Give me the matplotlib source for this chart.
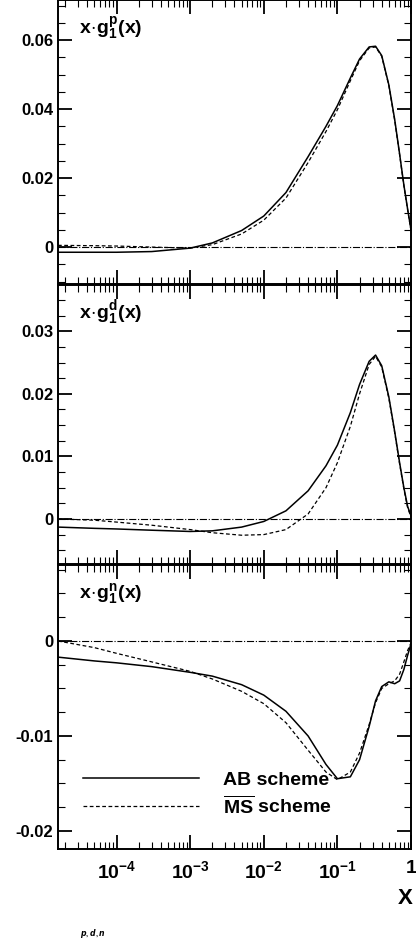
import numpy as np
import matplotlib
matplotlib.use("Agg")
import matplotlib.pyplot as plt
from matplotlib.ticker import LogLocator, NullFormatter, FixedLocator

plt.rcParams["font.family"] = ["Liberation Sans", "DejaVu Sans"]
plt.rcParams["font.weight"] = "bold"
plt.rcParams["mathtext.fontset"] = "custom"
plt.rcParams["mathtext.bf"] = "Liberation Sans:bold"
plt.rcParams["mathtext.rm"] = "Liberation Sans:bold"

x = [1.6e-5, 5e-5, 1e-4, 3e-4, 1e-3, 2e-3, 5e-3, 1e-2, 2e-2, 4e-2, 7e-2, 0.1,
     0.15, 0.2, 0.27, 0.33, 0.4, 0.5, 0.6, 0.7, 0.8, 0.9, 1.0]

p_ab = [-0.0015, -0.0015, -0.0015, -0.0013, -0.0003, 0.0012, 0.0048, 0.0090, 0.0158, 0.0262,
        0.0350, 0.0410, 0.0490, 0.0545, 0.0580, 0.0582, 0.0555, 0.0470, 0.0370, 0.0270, 0.0180, 0.0110, 0.0050]
p_ms = [0.0005, 0.0004, 0.0003, 0.0000, -0.0003, 0.0007, 0.0038, 0.0078, 0.0142, 0.0245,
        0.0335, 0.0398, 0.0482, 0.0540, 0.0577, 0.0580, 0.0553, 0.0468, 0.0368, 0.0268, 0.0178, 0.0108, 0.0048]

d_ab = [-0.0013, -0.0015, -0.0016, -0.0018, -0.0020, -0.0019, -0.0013, -0.0004, 0.0013, 0.0045,
        0.0085, 0.0118, 0.0170, 0.0215, 0.0252, 0.0262, 0.0245, 0.0195, 0.0140, 0.0090, 0.0050, 0.0020, 0.0005]
d_ms = [0.0000, -0.0002, -0.0005, -0.0010, -0.0017, -0.0022, -0.0026, -0.0025, -0.0017, 0.0008,
        0.0050, 0.0090, 0.0148, 0.0200, 0.0247, 0.0260, 0.0243, 0.0193, 0.0138, 0.0088, 0.0048, 0.0018, 0.0003]

n_ab = [-0.0017, -0.0021, -0.0023, -0.0027, -0.0033, -0.0037, -0.0046, -0.0057, -0.0074, -0.0100,
        -0.0130, -0.0145, -0.0143, -0.0125, -0.0090, -0.0063, -0.0048, -0.0043, -0.0045, -0.0042, -0.0030, -0.0015, -0.0003]
n_ms = [0.0000, -0.0007, -0.0013, -0.0022, -0.0032, -0.0040, -0.0053, -0.0066, -0.0086, -0.0115,
        -0.0138, -0.0146, -0.0138, -0.0118, -0.0088, -0.0065, -0.0050, -0.0045, -0.0042, -0.0035, -0.0022, -0.0010, -0.0002]

panels = [
    (p_ab, p_ms, "p", (-0.0107, 0.0716), [0, 0.02, 0.04, 0.06], ["0", "0.02", "0.04", "0.06"]),
    (d_ab, d_ms, "d", (-0.0072, 0.0374), [0, 0.01, 0.02, 0.03], ["0", "0.01", "0.02", "0.03"]),
    (n_ab, n_ms, "n", (-0.0219, 0.0080), [-0.02, -0.01, 0], ["-0.02", "-0.01", "0"]),
]

fig = plt.figure(figsize=(4.16, 9.40), dpi=100)
W, H = 416, 940
bounds = [(0, 284), (285, 564), (565, 849)]
axes = []
for (top, bot) in bounds:
    ax = fig.add_axes([58 / W, 1 - bot / H, (411 - 58) / W, (bot - top) / H])
    axes.append(ax)

for ax, (ab, ms, lab, ylim, yt, ytl) in zip(axes, panels):
    ax.plot(x, ab, color="black", lw=1.1)
    ax.plot(x, ms, color="black", lw=0.9, ls=(0, (3, 2)))
    ax.axhline(0, color="black", lw=0.8, ls="-.")
    ax.set_xscale("log")
    ax.set_xlim(1.6e-5, 1.0)
    ax.set_ylim(*ylim)
    ax.yaxis.set_major_locator(FixedLocator(yt))
    ax.set_yticklabels(ytl, fontsize=12, fontweight="bold")
    step = (yt[1] - yt[0]) / 4
    ax.yaxis.set_minor_locator(FixedLocator(np.arange(-0.03, 0.08, step)))
    ax.xaxis.set_major_locator(LogLocator(base=10, numticks=10))
    ax.xaxis.set_minor_locator(LogLocator(base=10, subs=np.arange(2, 10), numticks=10))
    ax.xaxis.set_minor_formatter(NullFormatter())
    ax.tick_params(which="both", direction="in", top=True, right=True)
    ax.tick_params(which="major", length=10, width=1.3)
    ax.tick_params(which="minor", length=5, width=0.8)
    for s in ax.spines.values():
        s.set_linewidth(1.4)
    ax.text(0.06, 0.90, r"$\mathbf{x\!\cdot\! g_1^{%s}(x)}$" % lab, transform=ax.transAxes,
            fontsize=14, va="center")
    if ax is not axes[-1]:
        ax.set_xticklabels([])

ax = axes[-1]
ax.set_xticks([1e-4, 1e-3, 1e-2, 1e-1, 1])
ax.set_xticklabels([r"$\mathbf{10^{-4}}$", r"$\mathbf{10^{-3}}$", r"$\mathbf{10^{-2}}$",
                    r"$\mathbf{10^{-1}}$", r"$\mathbf{1}$"], fontsize=14)
ax.tick_params(axis="x", pad=8)
ax.plot([], [], color="black", lw=1.1, label="AB scheme")
ax.plot([], [], color="black", lw=0.9, ls=(0, (3, 2)), label=r"$\overline{\mathbf{MS}}$ scheme")
handles, labels = ax.get_legend_handles_labels()
ax.legend(handles[-2:], labels[-2:], loc="lower left", bbox_to_anchor=(0.02, 0.05),
          frameon=False, handlelength=6, handletextpad=1.2, labelspacing=0.3,
          prop={"size": 14, "weight": "bold"})

fig.text(405 / W, 1 - 898 / H, "X", fontsize=16, fontweight="bold", ha="center", va="center")
fig.text(80 / W, 1 - 935 / H, "$^{p,d,n}$", fontsize=8, ha="left", va="center")

fig.savefig("out.png", dpi=100)
